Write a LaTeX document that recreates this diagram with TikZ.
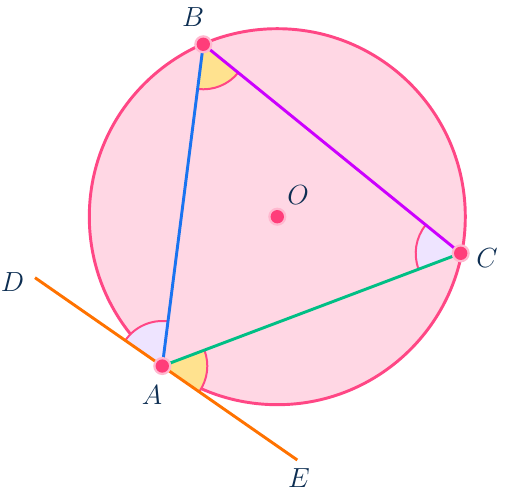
\documentclass[tikz,border=0pt]{standalone}
\usetikzlibrary{angles}
\definecolor{circfill}{HTML}{FFD7E4}
\definecolor{circline}{HTML}{FF4785}
\definecolor{dotpink}{HTML}{FF3D7A}
\definecolor{halopink}{HTML}{FFB8CF}
\definecolor{abblue}{HTML}{1A73F0}
\definecolor{bcpurple}{HTML}{CC00FF}
\definecolor{cagreen}{HTML}{00BF85}
\definecolor{tanorange}{HTML}{FF7200}
\definecolor{angyellow}{HTML}{FFE28F}
\definecolor{anglilac}{HTML}{EEE4FF}
\definecolor{labnavy}{HTML}{0D2E52}
\begin{document}
\begin{tikzpicture}[
		x=0.75pt, y=-0.75pt,
		lab/.style={text=labnavy,font=\fontsize{20}{24}\selectfont,inner sep=0pt},
		seg/.style={line width=2.2pt},
		mark yellow/.style={draw=circline,line width=1.5pt,fill=angyellow,angle radius=33.75pt},
		mark lilac/.style={draw=circline,line width=1.5pt,fill=anglilac,angle radius=33.75pt}
	]
	\useasboundingbox (0,0) rectangle (506,492);
	% points
	\coordinate (O) at (277.3,216.7);
	\coordinate (A) at (162.3,366);
	\coordinate (B) at (203.3,44.3);
	\coordinate (C) at (460.7,253.3);
	\coordinate (D) at (35,277.7);
	\coordinate (E) at (297.3,460);
	% circle
	\draw[line width=2.2pt,draw=circline,fill=circfill] (O) circle[radius=141pt];
	% angles
	\pic[mark lilac] {angle=B--A--D};
	\pic[mark yellow] {angle=E--A--C};
	\pic[mark yellow] {angle=A--B--C};
	\pic[mark lilac] {angle=B--C--A};
	% lines
	\draw[seg,tanorange] (D) -- (E);
	\draw[seg,abblue] (A) -- (B);
	\draw[seg,bcpurple] (B) -- (C);
	\draw[seg,cagreen] (C) -- (A);
	% dots
	\foreach \p in {O,A,B,C} {
		\fill[halopink] (\p) circle[radius=6.8pt];
		\fill[dotpink] (\p) circle[radius=5pt];
	}
	% labels
	\node[lab] (labA) at (152,395) {$A$};
	\node[lab] (labB) at (193,17.5) {$B$};
	\node[lab] (labC) at (487,258.5) {$C$};
	\node[lab] (labD) at (12.5,282.5) {$D$};
	\node[lab] (labE) at (299,478) {$E$};
	\node[lab] (labO) at (298,195) {$O$};
\end{tikzpicture}
\end{document}
